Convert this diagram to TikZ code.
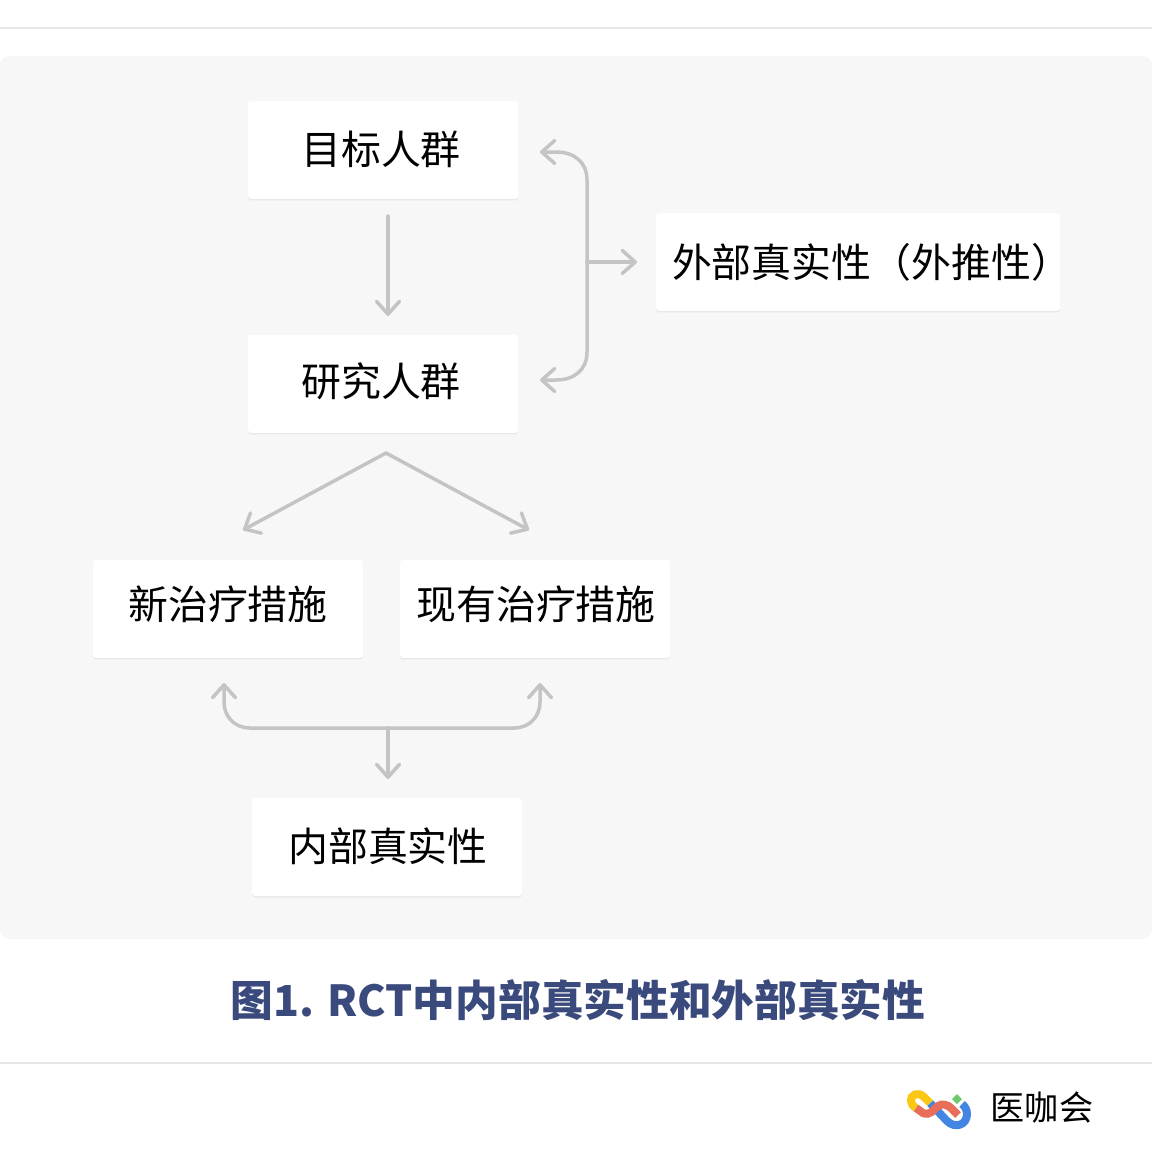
\documentclass[tikz,border=0pt]{standalone}
\usepackage{fontspec}
\setmainfont{Noto Sans CJK SC}
\usetikzlibrary{arrows.meta,shadows}
\definecolor{panelgray}{HTML}{F7F7F7}
\definecolor{rulegray}{HTML}{E6E6E6}
\definecolor{linkgray}{HTML}{C4C4C4}
\definecolor{titleblue}{HTML}{3A4A7C}
\newcommand{\nudge}[3]{\raisebox{#2}{\hspace*{#1}#3}}
\tikzset{
	box/.style={fill=white, rounded corners=0.06cm, minimum width=5.4cm, minimum height=1.96cm, inner sep=0pt,
		text height=0.8cm, text depth=0.2cm,
		font=\fontsize{22.7pt}{26pt}\selectfont, drop shadow={shadow xshift=0pt, shadow yshift=-0.03cm, opacity=0.12}},
	link/.style={linkgray, line width=0.07cm, line cap=round, line join=round},
	tip/.style={-{Straight Barb[length=0.26cm, width=0.46cm, line width=0.07cm, round]}},
}
\begin{document}
\begin{tikzpicture}[x=0.02cm, y=-0.02cm]
\useasboundingbox (0,0) rectangle (1152,1153);
\fill[white](0,0) rectangle (1152,1153);
\draw[rulegray, line width=0.05cm](0,28)--(1152,28);
\draw[rulegray, line width=0.05cm](0,1063)--(1152,1063);
\fill[panelgray, rounded corners=0.2cm](0,56) rectangle (1152,939);

\node[box] (target) at (383,150) {\nudge{-0.08cm}{0cm}{目标人群}};
\node[box] (study) at (383,384) {\nudge{-0.08cm}{0.06cm}{研究人群}};
\node[box] (new) at (228,609) {\nudge{0cm}{0.1cm}{新治疗措施}};
\node[box] (current) at (535,609) {\nudge{0.04cm}{0.1cm}{现有治疗措施}};
\node[box] (internal) at (387,847) {\nudge{0.04cm}{0.02cm}{内部真实性}};
\node[box, minimum width=8.08cm] (external) at (858,262) {\makebox[0pt]{\nudge{0.54cm}{0cm}{外部真实性（外推性）}}};

\coordinate (targetin) at (540,152);
\coordinate (studyin) at (540,380);
\coordinate (rightbar) at (587,262);
\coordinate (externalin) at (637,262);
\coordinate (downstart) at (388,216);
\coordinate (downend) at (388,316);
\coordinate (apex) at (386,453);
\coordinate (newin) at (243,530);
\coordinate (currentin) at (529,530);
\coordinate (newup) at (224,683);
\coordinate (currentup) at (540,683);
\coordinate (lowbar) at (388,728);
\coordinate (internalin) at (388,779);

\draw[link, tip](downstart)--(downend);
\draw[link, tip](rightbar)--(externalin);
\draw[link, tip](apex)--(newin);
\draw[link, tip](apex)--(currentin);
\draw[link, tip](lowbar)--(internalin);
\draw[link, tip](rightbar)--(587,180).. controls (587,162) and (574,152)..(556,152)--(targetin);
\draw[link, tip](rightbar)--(587,352).. controls (587,370) and (574,380)..(556,380)--(studyin);
\draw[link, tip](lowbar)--(250,728).. controls (234,728) and (224,716)..(224,702)--(newup);
\draw[link, tip](lowbar)--(514,728).. controls (530,728) and (540,716)..(540,702)--(currentup);

\node[text=titleblue, font=\fontsize{24.3pt}{28pt}\selectfont\bfseries] (caption) at (578,1000) {图1. RCT中内部真实性和外部真实性};
\node[font=\fontsize{19.4pt}{22pt}\selectfont] (brand) at (1042,1108) {医咖会};

% logo
\draw[color={rgb,255:red,66;green,133;blue,226}, line width=0.16cm](930,1103)--(947,1121).. controls (955,1129) and (967,1125)..(967,1114).. controls (967,1110) and (965,1106)..(962,1104);
\draw[color={rgb,255:red,250;green,200;blue,20}, line width=0.16cm](930,1103)--(924,1097).. controls (918,1091) and (910,1095)..(911,1101).. controls (911,1104) and (913,1106)..(916,1108);
\draw[color={rgb,255:red,232;green,110;blue,90}, line width=0.16cm](916,1108)--(923,1113).. controls (930,1116) and (933,1110)..(938,1106).. controls (942,1103) and (948,1105)..(951,1108)--(958,1115);
\fill[color={rgb,255:red,110;green,200;blue,110}](957,1094)--(962,1099)--(957,1104)--(952,1099)--cycle;
\end{tikzpicture}
\end{document}
